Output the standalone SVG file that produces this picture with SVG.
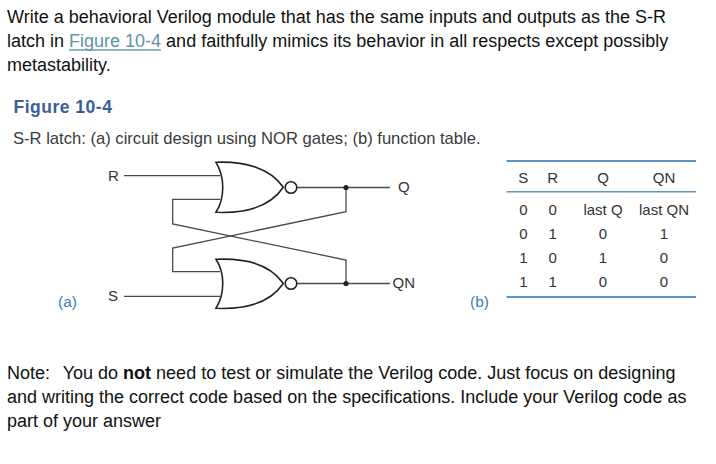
<svg xmlns="http://www.w3.org/2000/svg" width="716" height="464" viewBox="0 0 716 464">
<style>
text{font-family:"Liberation Sans",Arial,sans-serif;white-space:pre}
.body{font-size:18px;fill:#111}
.cap{font-size:16.600px;fill:#3a3a3a}
.lab{font-size:15px;fill:#333}
.tb{font-size:15px;fill:#333;text-anchor:middle}
.sub{font-size:15.500px;fill:#3a7fb5}
.w{fill:none;stroke:#4a4a4a;stroke-width:1.3}
.g{fill:#fff;stroke:#222;stroke-width:1.6}
.rule{stroke:#5b93c4}
</style>
<rect width="716" height="464" fill="#fff"/>
<text class="body" x="7" y="22.500">Write a behavioral Verilog module that has the same inputs and outputs as the S-R</text>
<text class="body" x="7" y="47">latch in <tspan fill="#5f93a5">Figure 10-4</tspan> and faithfully mimics its behavior in all respects except possibly</text>
<line x1="69" y1="50" x2="161" y2="50" stroke="#6f9aa8" stroke-width="1.3"/>
<text class="body" x="7" y="71">metastability.</text>
<text x="13.500" y="113" font-size="17.500" font-weight="700" fill="#3a5f9a" letter-spacing=".5">Figure 10-4</text>
<text class="cap" x="13" y="144">S-R latch: (a) circuit design using NOR gates; (b) function table.</text>
<g id="connectors">
<path class="w" d="M124 175.700H220"/>
<path class="w" d="M124 296.300H220"/>
<path class="w" d="M297 187.500H390"/>
<path class="w" d="M297 283.500H390"/>
<path class="w" d="M346 187.500V211.700L172.700 248V271.700H220"/>
<path class="w" d="M346 283.500V260L172.700 224V199.300H220"/>
<circle cx="346" cy="187.500" r="2.600" fill="#222"/>
<circle cx="346" cy="283.500" r="2.600" fill="#222"/>
</g>
<g id="gate-top">
<path class="g" d="M216 162.300C244 161 270 168 283.300 187.300C270 207 244 213.500 216 212.300C225 198 225 177 216 162.300Z"/>
<circle class="g" cx="291" cy="187.500" r="5.800"/>
</g>
<g id="gate-bottom">
<path class="g" d="M216 259.300C244 258 270 264 283.300 283.500C270 303 244 309.500 216 308.300C225 294 225 273 216 259.300Z"/>
<circle class="g" cx="291" cy="283.500" r="5.800"/>
</g>
<g id="labels">
<text class="lab" x="108" y="180.700">R</text>
<text class="lab" x="108" y="301">S</text>
<text class="lab" x="398" y="192">Q</text>
<text class="lab" x="392.500" y="288.300">QN</text>
<text class="sub" x="58" y="307">(a)</text>
<text class="sub" x="470" y="307">(b)</text>
</g>
<g id="table">
<line class="rule" x1="506.500" y1="161" x2="696" y2="161" stroke-width="2"/>
<line class="rule" x1="506.500" y1="191.700" x2="696" y2="191.700" stroke-width="1.400"/>
<line class="rule" x1="506.500" y1="297" x2="696" y2="297" stroke-width="2"/>
<text class="tb" x="523.300" y="182.700">S</text><text class="tb" x="552.700" y="182.700">R</text><text class="tb" x="603" y="182.700">Q</text><text class="tb" x="664" y="182.700">QN</text>
<text class="tb" x="523.300" y="215">0</text><text class="tb" x="552.700" y="215">0</text><text class="tb" x="603" y="215">last Q</text><text class="tb" x="664" y="215">last QN</text>
<text class="tb" x="523.300" y="238.500">0</text><text class="tb" x="552.700" y="238.500">1</text><text class="tb" x="603" y="238.500">0</text><text class="tb" x="664" y="238.500">1</text>
<text class="tb" x="523.300" y="262.700">1</text><text class="tb" x="552.700" y="262.700">0</text><text class="tb" x="603" y="262.700">1</text><text class="tb" x="664" y="262.700">0</text>
<text class="tb" x="523.300" y="286.700">1</text><text class="tb" x="552.700" y="286.700">1</text><text class="tb" x="603" y="286.700">0</text><text class="tb" x="664" y="286.700">0</text>
</g>
<text class="body" x="7" y="379">Note:  <tspan dx="3">You do </tspan><tspan font-weight="700">not</tspan> need to test or simulate the Verilog code. Just focus on designing</text>
<text class="body" x="7" y="403">and writing the correct code based on the specifications. Include your Verilog code as</text>
<text class="body" x="7" y="427">part of your answer</text>
</svg>
